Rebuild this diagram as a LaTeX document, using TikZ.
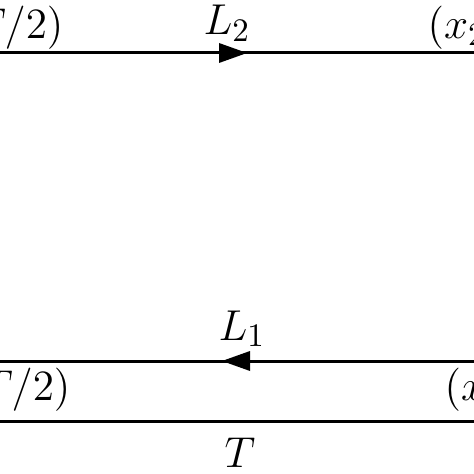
\documentclass[tikz,border=0pt]{standalone}
\usetikzlibrary{arrows.meta}
\begin{document}
\begin{tikzpicture}[x=0.3333pt,y=-0.3333pt,
  wire/.style={line width=1pt},
  lbl/.style={inner sep=0pt,font=\fontsize{15}{18}\selectfont},
  tri/.style={fill=black,draw=none}]
\useasboundingbox (0,0) rectangle (474,474);
% end points of the lines (beyond the visible frame)
\coordinate (tl) at (-60,53);
\coordinate (tr) at (534,53);
\coordinate (ml) at (-60,361);
\coordinate (mr) at (534,361);
\coordinate (bl) at (-60,421);
\coordinate (br) at (534,421);
\draw[wire] (tl) -- (tr);
\draw[wire] (mr) -- (ml);
\draw[wire] (bl) -- (br);
% arrowheads
\fill[tri] (247,53) -- (219,43) -- (219,63) -- cycle;
\fill[tri] (222,361) -- (250,351) -- (250,371) -- cycle;
% labels
\node[lbl,anchor=base] (L2) at (227,35) {$L_2$};
\node[lbl,anchor=base] (L1) at (242,340) {$L_1$};
\node[lbl,anchor=base] (T) at (240,467) {$T$};
\node[lbl,anchor=base east] (p1) at (64,39) {$(x_1,-T/2)$};
\node[lbl,anchor=base west] (p2) at (427,39) {$(x_2,-T/2)$};
\node[lbl,anchor=base east] (p3) at (71,400) {$(x_1,T/2)$};
\node[lbl,anchor=base west] (p4) at (444,400) {$(x_2,T/2)$};
\end{tikzpicture}
\end{document}
